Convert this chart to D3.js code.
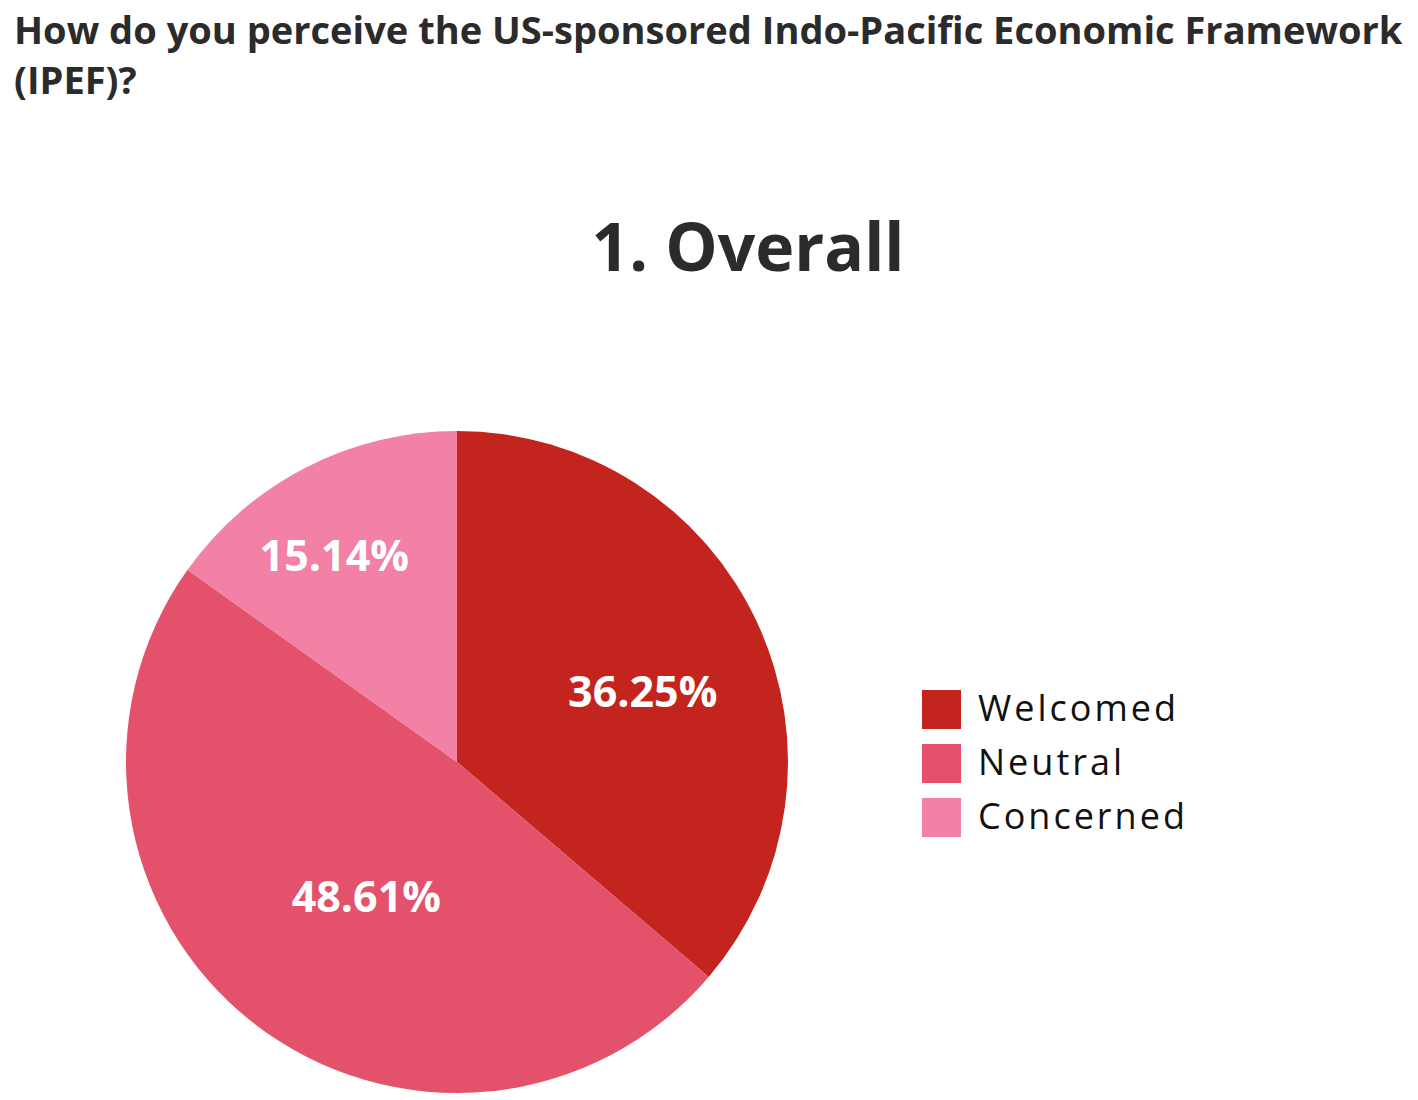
<!DOCTYPE html>
<html>
<head>
<meta charset="utf-8">
<script src="https://cdn.jsdelivr.net/npm/d3@7"></script>
<style>
  html, body { margin: 0; padding: 0; background: #fff; }
  svg { display: block; }
</style>
</head>
<body>
<div id="chart"></div>
<script>
// IPEF perception survey - overall pie

const categories = ['Welcomed', 'Neutral', 'Concerned'];
const values = [36.25, 48.61, 15.14];
const colors = ['#c3241d', '#e3526a', '#f380a5'];
// where each percent label sits: share of the radius, and a nudge off the mid-angle (deg)
const labelRadius = [0.6, 0.49, 0.725];
const labelNudge = [4, -4, -3.5];

const width = 1418;
const height = 1100;
const cx = 457, cy = 762, radius = 331;

const svg = d3.select('#chart')
  .append('svg')
  .attr('width', width)
  .attr('height', height);

// Header
const titleFont = "'Open Sans', 'DejaVu Sans', sans-serif";
const t1 = svg.append('text')
  .attr('x', 14)
  .attr('y', 44)
  .attr('font-family', titleFont)
  .attr('font-weight', 'bold')
  .attr('font-size', 28)
  .attr('fill', '#2b2b2b')
  .text('How do you perceive the US-sponsored Indo-Pacific Economic Framework');
// fit first line to the width it has in the original
const w1 = t1.node().getComputedTextLength();
const fs = 28 * 1389 / w1;
t1.attr('font-size', fs);

svg.append('text')
  .attr('x', 14)
  .attr('y', 94)
  .attr('font-family', titleFont)
  .attr('font-weight', 'bold')
  .attr('font-size', fs)
  .attr('fill', '#2b2b2b')
  .text('(IPEF)?');

svg.append('text')
  .attr('x', 748)
  .attr('y', 271)
  .attr('text-anchor', 'middle')
  .attr('font-family', titleFont)
  .attr('font-weight', 'bold')
  .attr('font-size', 66)
  .attr('fill', '#2b2b2b')
  .text('1. Overall');

// Pie
const data = categories.map((c, i) => ({ name: c, value: values[i], i }));
const pie = d3.pie().sort(null).value(d => d.value);
const arc = d3.arc().innerRadius(0).outerRadius(radius);
const color = d3.scaleOrdinal().domain(categories).range(colors);

const g = svg.append('g').attr('transform', `translate(${cx},${cy})`);
const arcs = pie(data);

g.selectAll('path')
  .data(arcs)
  .enter()
  .append('path')
  .attr('d', arc)
  .attr('fill', d => color(d.data.name));

g.selectAll('text')
  .data(arcs)
  .enter()
  .append('text')
  .attr('transform', d => {
    const r = radius * labelRadius[d.data.i];
    const a = (d.startAngle + d.endAngle) / 2 + labelNudge[d.data.i] * Math.PI / 180;
    return `translate(${Math.sin(a) * r},${-Math.cos(a) * r})`;
  })
  .attr('text-anchor', 'middle')
  .attr('dy', '0.36em')
  .attr('font-family', titleFont)
  .attr('font-weight', 'bold')
  .attr('font-size', 43)
  .attr('fill', '#fff')
  .text(d => d.data.value.toFixed(2) + '%');

// Legend
const legend = svg.append('g').attr('transform', 'translate(922,690)');
const item = legend.selectAll('g')
  .data(categories)
  .enter()
  .append('g')
  .attr('transform', (d, i) => `translate(0,${i * 54})`);

item.append('rect')
  .attr('width', 39)
  .attr('height', 39)
  .attr('fill', d => color(d));

item.append('text')
  .attr('x', 56)
  .attr('y', 18)
  .attr('dy', '0.35em')
  .attr('font-family', titleFont)
  .attr('font-size', 36)
  .attr('letter-spacing', 3)
  .attr('fill', '#111')
  .text(d => d);
</script>
</body>
</html>
